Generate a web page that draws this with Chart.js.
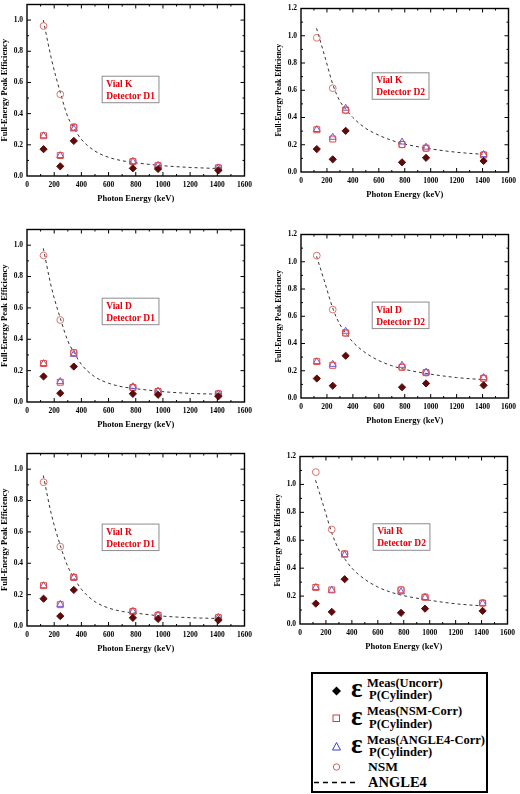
<!DOCTYPE html>
<html>
<head>
<meta charset="utf-8">
<script src="https://cdn.jsdelivr.net/npm/chart.js@4/dist/chart.umd.min.js"></script>
<style>
  body { margin: 0; background: #fff; }
  #page { position: relative; width: 520px; height: 794px; overflow: hidden;
          font-family: "Liberation Serif", "DejaVu Serif", serif; font-weight: bold; }
  #page canvas { position: absolute; }
  .t { position: absolute; white-space: nowrap; color: #000; }
  .eps { font-size: 27px; line-height: 27px; }
  .sm { font-size: 12.5px; line-height: 13px; }
</style>
</head>
<body>
<div id="page">
  <div class="t" style="left:311px;top:672px;width:173px;height:117px;border:2px solid #000;"></div>
  <svg style="position:absolute;left:0;top:0" width="520" height="794">
    <polygon points="336.5,686.5 341,691 336.5,695.5 332,691" fill="#000"/>
    <rect x="333" y="715" width="6.5" height="6.5" fill="none" stroke="#d43c3c" stroke-width="1"/>
    <polygon points="336.5,742.5 340.5,750 332.5,750" fill="none" stroke="#3a3ad8" stroke-width="1"/>
    <circle cx="336.5" cy="767" r="3.2" fill="none" stroke="#d85a5a" stroke-width="1"/>
    <line x1="314" y1="782.5" x2="358" y2="782.5" stroke="#000" stroke-width="1.5" stroke-dasharray="5,4"/>
  </svg>
  <div class="t eps" style="left:351px;top:675px;">ε</div>
  <div class="t sm" style="left:367px;top:677px;">Meas(Uncorr)</div>
  <div class="t sm" style="left:369px;top:689px;">P(Cylinder)</div>
  <div class="t eps" style="left:351px;top:703px;">ε</div>
  <div class="t sm" style="left:367px;top:705px;">Meas(NSM-Corr)</div>
  <div class="t sm" style="left:369px;top:718px;">P(Cylinder)</div>
  <div class="t eps" style="left:351px;top:731px;">ε</div>
  <div class="t sm" style="left:367px;top:734px;">Meas(ANGLE4-Corr)</div>
  <div class="t sm" style="left:369px;top:745.5px;">P(Cylinder)</div>
  <div class="t" style="left:368px;top:760px;font-size:13.5px;line-height:13.5px;">NSM</div>
  <div class="t" style="left:368px;top:775px;font-size:14.5px;line-height:14.5px;">ANGLE4</div>
</div>
<script>
// photon energies of the measured lines (keV)
const energies = [121.8, 244.7, 344.3, 778.9, 964.1, 1408.0];
// energies where the ANGLE4 curve was read
const curveEnergies = [120, 180, 250, 300, 350, 400, 500, 600, 700, 800, 1000, 1200, 1400];
const xTickLabels = [0, 200, 400, 600, 800, 1000, 1200, 1400, 1600];

// Vial K, detector D1
const kD1Uncorr = [0.172, 0.062, 0.225, 0.049, 0.045, 0.036];
const kD1NsmCorr = [0.258, 0.131, 0.312, 0.092, 0.066, 0.052];
const kD1AngCorr = [0.258, 0.131, 0.302, 0.092, 0.066, 0.052];
const kD1Nsm = [0.962, 0.524, 0.315, 0.094, 0.068, 0.052];
const kD1Angle4 = [1.0, 0.75, 0.52, 0.38, 0.30, 0.235, 0.16, 0.12, 0.098, 0.085, 0.066, 0.055, 0.048];

// Vial K, detector D2
const kD2Uncorr = [0.168, 0.093, 0.302, 0.071, 0.104, 0.081];
const kD2NsmCorr = [0.31, 0.242, 0.455, 0.202, 0.175, 0.125];
const kD2AngCorr = [0.312, 0.255, 0.468, 0.22, 0.182, 0.128];
const kD2Nsm = [0.985, 0.615, 0.452, 0.202, 0.175, 0.125];
const kD2Angle4 = [1.055, 0.86, 0.63, 0.52, 0.455, 0.40, 0.32, 0.27, 0.232, 0.205, 0.17, 0.145, 0.13];

// Vial D, detector D1
const dD1Uncorr = [0.163, 0.056, 0.226, 0.052, 0.046, 0.036];
const dD1NsmCorr = [0.245, 0.126, 0.314, 0.092, 0.067, 0.052];
const dD1AngCorr = [0.245, 0.13, 0.304, 0.097, 0.069, 0.052];
const dD1Nsm = [0.935, 0.523, 0.314, 0.094, 0.068, 0.052];
const dD1Angle4 = [0.98, 0.73, 0.52, 0.39, 0.31, 0.24, 0.16, 0.12, 0.097, 0.085, 0.066, 0.055, 0.05];

// Vial D, detector D2
const dD2Uncorr = [0.143, 0.09, 0.31, 0.079, 0.107, 0.093];
const dD2NsmCorr = [0.267, 0.24, 0.477, 0.226, 0.186, 0.145];
const dD2AngCorr = [0.267, 0.247, 0.49, 0.24, 0.19, 0.15];
const dD2Nsm = [1.045, 0.649, 0.477, 0.226, 0.186, 0.145];
const dD2Angle4 = [1.04, 0.86, 0.645, 0.54, 0.47, 0.41, 0.33, 0.275, 0.237, 0.21, 0.175, 0.15, 0.135];

// Vial R, detector D1
const rD1Uncorr = [0.174, 0.063, 0.23, 0.052, 0.045, 0.037];
const rD1NsmCorr = [0.257, 0.136, 0.31, 0.092, 0.068, 0.053];
const rD1AngCorr = [0.257, 0.138, 0.31, 0.092, 0.068, 0.053];
const rD1Nsm = [0.917, 0.506, 0.31, 0.094, 0.07, 0.055];
const rD1Angle4 = [0.96, 0.71, 0.50, 0.38, 0.30, 0.235, 0.155, 0.115, 0.093, 0.082, 0.063, 0.053, 0.048];

// Vial R, detector D2
const rD2Uncorr = [0.146, 0.087, 0.321, 0.08, 0.11, 0.094];
const rD2NsmCorr = [0.262, 0.244, 0.502, 0.244, 0.192, 0.15];
const rD2AngCorr = [0.262, 0.242, 0.495, 0.23, 0.19, 0.148];
const rD2Nsm = [1.088, 0.677, 0.502, 0.244, 0.192, 0.15];
const rD2Angle4 = [1.03, 0.85, 0.64, 0.53, 0.46, 0.40, 0.32, 0.265, 0.228, 0.203, 0.17, 0.145, 0.13];

// panel layout: plot area edges in page pixels
const panels = [
  { L: 27,  R: 247, T: 1,   B: 176, yMax: 1.1, yTitle: 8.5, vial: 'Vial K', det: 'Detector D1', at: [553, 0.64],
    sets: [kD1Uncorr, kD1NsmCorr, kD1AngCorr, kD1Nsm, kD1Angle4] },
  { L: 301, R: 511, T: 5,   B: 172, yMax: 1.2, yTitle: 7.7, vial: 'Vial K', det: 'Detector D2', at: [549, 0.728],
    sets: [kD2Uncorr, kD2NsmCorr, kD2AngCorr, kD2Nsm, kD2Angle4] },
  { L: 27,  R: 247, T: 226, B: 402, yMax: 1.1, yTitle: 8.5, vial: 'Vial D', det: 'Detector D1', at: [553, 0.662],
    sets: [dD1Uncorr, dD1NsmCorr, dD1AngCorr, dD1Nsm, dD1Angle4] },
  { L: 301, R: 511, T: 231, B: 398, yMax: 1.2, yTitle: 7.7, vial: 'Vial D', det: 'Detector D2', at: [549, 0.704],
    sets: [dD2Uncorr, dD2NsmCorr, dD2AngCorr, dD2Nsm, dD2Angle4] },
  { L: 27,  R: 247, T: 450, B: 626, yMax: 1.1, yTitle: 8.5, vial: 'Vial R', det: 'Detector D1', at: [553, 0.65],
    sets: [rD1Uncorr, rD1NsmCorr, rD1AngCorr, rD1Nsm, rD1Angle4] },
  { L: 300, R: 510, T: 453, B: 624, yMax: 1.2, yTitle: 7.7, vial: 'Vial R', det: 'Detector D2', at: [564, 0.718],
    sets: [rD2Uncorr, rD2NsmCorr, rD2AngCorr, rD2Nsm, rD2Angle4] }
];

const SERIF = '"Liberation Serif", "Times New Roman", serif';
Chart.defaults.font.family = SERIF;
Chart.defaults.font.weight = 'bold';
Chart.defaults.color = '#000';
Chart.defaults.animation = false;

/* box + inward ticks on all four sides */
const framePlugin = {
  id: 'frame',
  afterDatasetsDraw(chart) {
    const { ctx, chartArea: a, scales: { x, y } } = chart;
    ctx.save();
    ctx.strokeStyle = '#000';
    ctx.lineWidth = 1.4;
    ctx.strokeRect(a.left, a.top, a.right - a.left, a.bottom - a.top);
    ctx.lineWidth = 1;
    ctx.beginPath();
    for (let v = 100; v < 1600; v += 100) {
      const px = x.getPixelForValue(v);
      const len = v % 200 === 0 ? 4 : 2;
      ctx.moveTo(px, a.bottom); ctx.lineTo(px, a.bottom - len);
      ctx.moveTo(px, a.top); ctx.lineTo(px, a.top + len);
    }
    for (let i = 1; i * 0.1 < y.max - 1e-6; i++) {
      const py = y.getPixelForValue(i * 0.1);
      const len = i % 2 === 0 ? 4 : 2;
      ctx.moveTo(a.left, py); ctx.lineTo(a.left + len, py);
      ctx.moveTo(a.right, py); ctx.lineTo(a.right - len, py);
    }
    ctx.stroke();
    ctx.restore();
  }
};

/* red "Vial / Detector" note */
const notePlugin = {
  id: 'note',
  afterDraw(chart, args, opts) {
    const { ctx, scales: { x, y } } = chart;
    const left = x.getPixelForValue(opts.at[0]);
    const top = y.getPixelForValue(opts.at[1]);
    ctx.save();
    ctx.font = 'bold 9.5px ' + SERIF;
    const w = Math.max(ctx.measureText(opts.vial).width, ctx.measureText(opts.det).width) + 8;
    const h = 26.5;
    ctx.fillStyle = '#fff';
    ctx.fillRect(left, top, w, h);
    ctx.strokeStyle = '#8c8c8c';
    ctx.lineWidth = 1;
    ctx.strokeRect(left, top, w, h);
    ctx.fillStyle = '#e8000b';
    ctx.textBaseline = 'middle';
    ctx.fillText(opts.vial, left + 4, top + 8);
    ctx.fillText(opts.det, left + 4, top + 20);
    ctx.restore();
  }
};

const pts = (xs, ys) => ys.map((v, i) => ({ x: xs[i], y: v }));

panels.forEach(p => {
  const cv = document.createElement('canvas');
  const w = p.R - p.L + 40, h = p.B - p.T + 37;
  cv.width = w; cv.height = h;
  cv.style.left = (p.L - 30) + 'px';
  cv.style.top = (p.T - 5) + 'px';
  document.getElementById('page').appendChild(cv);

  const [uncorr, nsmCorr, angCorr, nsm, angle4] = p.sets;

  new Chart(cv, {
    type: 'scatter',
    data: {
      datasets: [
        { data: pts(energies, uncorr), pointStyle: 'rectRot', pointRadius: 3.6,
          backgroundColor: '#5c0a0a', borderColor: '#5c0a0a', borderWidth: 1 },
        { data: pts(energies, nsmCorr), pointStyle: 'rect', pointRadius: 4.2,
          backgroundColor: 'transparent', borderColor: '#e04848', borderWidth: 1 },
        { data: pts(energies, angCorr), pointStyle: 'triangle', pointRadius: 4,
          backgroundColor: 'transparent', borderColor: '#6a5ad8', borderWidth: 1 },
        { data: pts(energies, nsm), pointStyle: 'circle', pointRadius: 3.4,
          backgroundColor: 'transparent', borderColor: '#e07070', borderWidth: 1 },
        { type: 'line', data: pts(curveEnergies, angle4), showLine: true, pointRadius: 0,
          borderColor: '#333', borderWidth: 1, borderDash: [3, 3], fill: false,
          cubicInterpolationMode: 'monotone' }
      ]
    },
    options: {
      responsive: false,
      maintainAspectRatio: false,
      layout: { padding: { left: 0, top: 5, right: 10, bottom: 0 } },
      plugins: {
        legend: { display: false },
        tooltip: { enabled: false },
        note: { vial: p.vial, det: p.det, at: p.at }
      },
      scales: {
        x: {
          type: 'linear', min: 0, max: 1600,
          afterBuildTicks: s => { s.ticks = xTickLabels.map(v => ({ value: v })); },
          ticks: { font: { size: 7.5, weight: 'bold' }, color: '#000', padding: 5,
                   maxRotation: 0, autoSkip: false, callback: v => String(v) },
          grid: { display: false, drawTicks: false },
          border: { display: false },
          title: { display: true, text: 'Photon Energy (keV)', color: '#000',
                   font: { size: 8.5, weight: 'bold' }, padding: { top: 0, bottom: 4 } },
          afterFit: s => { s.height = 32; }
        },
        y: {
          min: 0, max: p.yMax,
          ticks: { stepSize: 0.2, includeBounds: false, font: { size: 7.5, weight: 'bold' },
                   color: '#000', padding: 4, callback: v => v.toFixed(1) },
          grid: { display: false, drawTicks: false },
          border: { display: false },
          title: { display: true, text: 'Full-Energy Peak Efficiency', color: '#000',
                   font: { size: p.yTitle, weight: 'bold' }, padding: { top: 3, bottom: 0 } },
          afterFit: s => { s.width = 30; }
        }
      }
    },
    plugins: [framePlugin, notePlugin]
  });
});
</script>
</body>
</html>
